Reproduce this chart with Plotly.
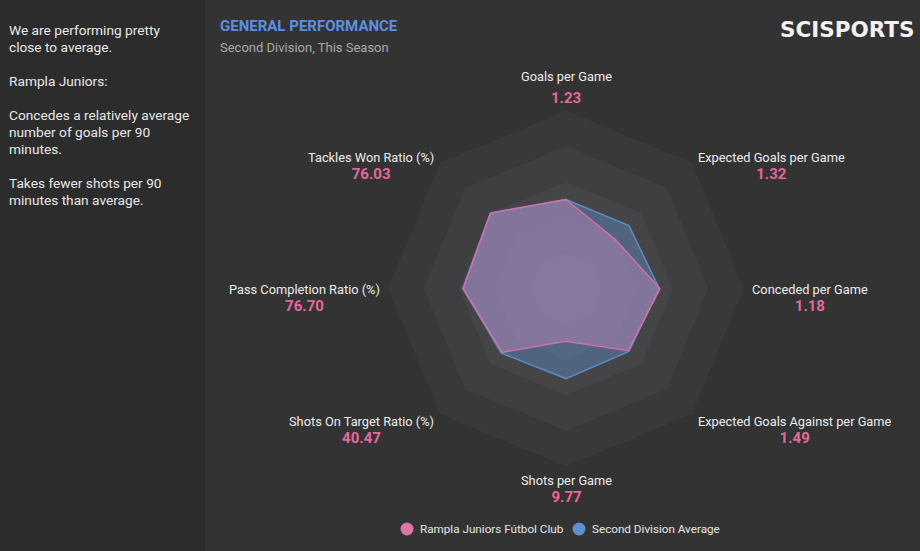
import math
import plotly.graph_objects as go

# ---------------- data ----------------
categories = [
    "Goals per Game",
    "Expected Goals per Game",
    "Conceded per Game",
    "Expected Goals Against per Game",
    "Shots per Game",
    "Shots On Target Ratio (%)",
    "Pass Completion Ratio (%)",
    "Tackles Won Ratio (%)",
]
club_values = ["1.23", "1.32", "1.18", "1.49", "9.77", "40.47", "76.70", "76.03"]
club_scores = [0.50, 0.39, 0.528, 0.494, 0.296, 0.507, 0.577, 0.599]
avg_scores = [0.50, 0.50, 0.524, 0.50, 0.506, 0.514, 0.580, 0.601]
band_levels = [1.0, 0.8, 0.6, 0.4, 0.2]

club_name = "Rampla Juniors Fútbol Club"
avg_name = "Second Division Average"
series_names = [club_name, avg_name]
series_colors = ["#dd76a8", "#5f8fcc"]

commentary_lines = [
    "We are performing pretty", "close to average.", "",
    "Rampla Juniors:", "",
    "Concedes a relatively average", "number of goals per 90", "minutes.", "",
    "Takes fewer shots per 90", "minutes than average.",
]

# ---------------- layout constants ----------------
W, H = 920, 551
CX, CY, RAD = 566, 288.5, 178
FONT = "Roboto"

fig = go.Figure()

closed_theta = categories + [categories[0]]

for lvl in band_levels:
    fig.add_trace(go.Scatterpolar(
        r=[lvl] * (len(categories) + 1), theta=closed_theta,
        mode="lines", line=dict(width=0, color="rgba(0,0,0,0)"),
        fill="toself", fillcolor="rgba(210,210,235,0.045)",
        hoverinfo="skip", showlegend=False,
    ))

fig.add_trace(go.Scatterpolar(
    r=avg_scores + [avg_scores[0]], theta=closed_theta,
    mode="lines", line=dict(color="#5b8bc4", width=1.5),
    fill="toself", fillcolor="rgba(95,140,205,0.42)",
    name=avg_name, showlegend=False,
))
fig.add_trace(go.Scatterpolar(
    r=club_scores + [club_scores[0]], theta=closed_theta,
    mode="lines", line=dict(color="#d070a4", width=1.5),
    fill="toself", fillcolor="rgba(200,140,192,0.42)",
    name=club_name, showlegend=False,
))

# ---------------- axis labels ----------------
annotations = []
shapes = []
LR = 184
n = len(categories)
VAL_STYLE = "font-size:15px;color:#e4689e"
LABEL_FONT = dict(family=FONT, size=12.8, color="#ececec")
for i, (cat, val) in enumerate(zip(categories, club_values)):
    th = 2 * math.pi * i / n
    s, c = math.sin(th), math.cos(th)
    ax = CX + LR * s
    ay = CY - LR * c
    if s > 0.1:
        xa = "left"
    elif s < -0.1:
        xa = "right"
    else:
        xa = "center"
    if c > 0.9:
        # top: value just outside the chart, label above it
        annotations.append(dict(
            x=ax / W, y=1 - (ay - 6.5) / H, xref="paper", yref="paper",
            xanchor="center", yanchor="middle", showarrow=False,
            text=f"<b>{val}</b>",
            font=dict(family=FONT, size=15, color="#e4689e"),
        ))
        annotations.append(dict(
            x=ax / W, y=1 - (ay - 28.5) / H, xref="paper", yref="paper",
            xanchor="center", yanchor="middle", showarrow=False,
            text=cat, font=LABEL_FONT,
        ))
        continue
    if c < -0.9:
        ya, yy = "top", ay - 1.5
    elif c < -0.1:
        ya, yy = "top", ay - 6.5
    elif c > 0.1:
        ya, yy = "top", ay - 10.5
    else:
        ya, yy = "top", ay - 9
    annotations.append(dict(
        x=ax / W, y=1 - yy / H, xref="paper", yref="paper",
        xanchor=xa, yanchor=ya, align="center", showarrow=False,
        text=f"{cat}<br><span style='{VAL_STYLE}'><b>{val}</b></span>",
        font=LABEL_FONT,
    ))

# left commentary, one line every 17 px
for k, line in enumerate(commentary_lines):
    if not line:
        continue
    annotations.append(dict(
        x=7 / W, y=1 - (30 + 17 * k) / H, xref="paper", yref="paper",
        xanchor="left", yanchor="middle", align="left", showarrow=False,
        text=line, font=dict(family=FONT, size=13.7, color="#e8e8e8"),
    ))

# title + subtitle
annotations.append(dict(
    x=218 / W, y=1 - 26 / H, xref="paper", yref="paper",
    xanchor="left", yanchor="middle", showarrow=False,
    text="<b>GENERAL PERFORMANCE</b>",
    font=dict(family=FONT, size=15, color="#5b8ee6"),
))
annotations.append(dict(
    x=218 / W, y=1 - 47 / H, xref="paper", yref="paper",
    xanchor="left", yanchor="middle", showarrow=False,
    text="Second Division, This Season",
    font=dict(family=FONT, size=13, color="#a9a9a9"),
))
# logo
annotations.append(dict(
    x=917 / W, y=1 - 30 / H, xref="paper", yref="paper",
    xanchor="right", yanchor="middle", showarrow=False,
    text="<b>SCISPORTS</b>",
    font=dict(family="DejaVu Sans", size=21.5, color="#f2f2f2"),
))

# custom legend: circle + label
legend_x = [407, 579]
LEG_Y = 529
for name, col, lx in zip(series_names, series_colors, legend_x):
    shapes.append(dict(type="circle", xref="paper", yref="paper",
                       x0=(lx - 6.5) / W, x1=(lx + 6.5) / W,
                       y0=1 - (LEG_Y + 6.5) / H, y1=1 - (LEG_Y - 6.5) / H,
                       fillcolor=col, line=dict(width=0)))
    annotations.append(dict(
        x=(lx + 11) / W, y=1 - LEG_Y / H, xref="paper", yref="paper",
        xanchor="left", yanchor="middle", showarrow=False, text=name,
        font=dict(family=FONT, size=11.7, color="#e6e6e6"),
    ))

shapes = [
    dict(type="rect", xref="paper", yref="paper", x0=0, x1=204 / W, y0=0, y1=1,
         fillcolor="#2c2c2c", line=dict(width=0), layer="below"),
    dict(type="line", xref="paper", yref="paper", x0=204.5 / W, x1=204.5 / W, y0=0, y1=1,
         line=dict(width=1, color="#2a2a2a"), layer="below"),
] + shapes

fig.update_layout(
    width=W, height=H,
    margin=dict(l=0, r=0, t=0, b=0),
    paper_bgcolor="#333333",
    plot_bgcolor="#333333",
    polar=dict(
        domain=dict(x=[(CX - RAD) / W, (CX + RAD) / W],
                    y=[1 - (CY + RAD) / H, 1 - (CY - RAD) / H]),
        bgcolor="rgba(0,0,0,0)",
        gridshape="linear",
        radialaxis=dict(visible=False, range=[0, 1]),
        angularaxis=dict(visible=False, rotation=90, direction="clockwise",
                         categoryorder="array", categoryarray=categories),
    ),
    shapes=shapes,
    annotations=annotations,
    showlegend=False,
)

fig.write_html("out.html")
